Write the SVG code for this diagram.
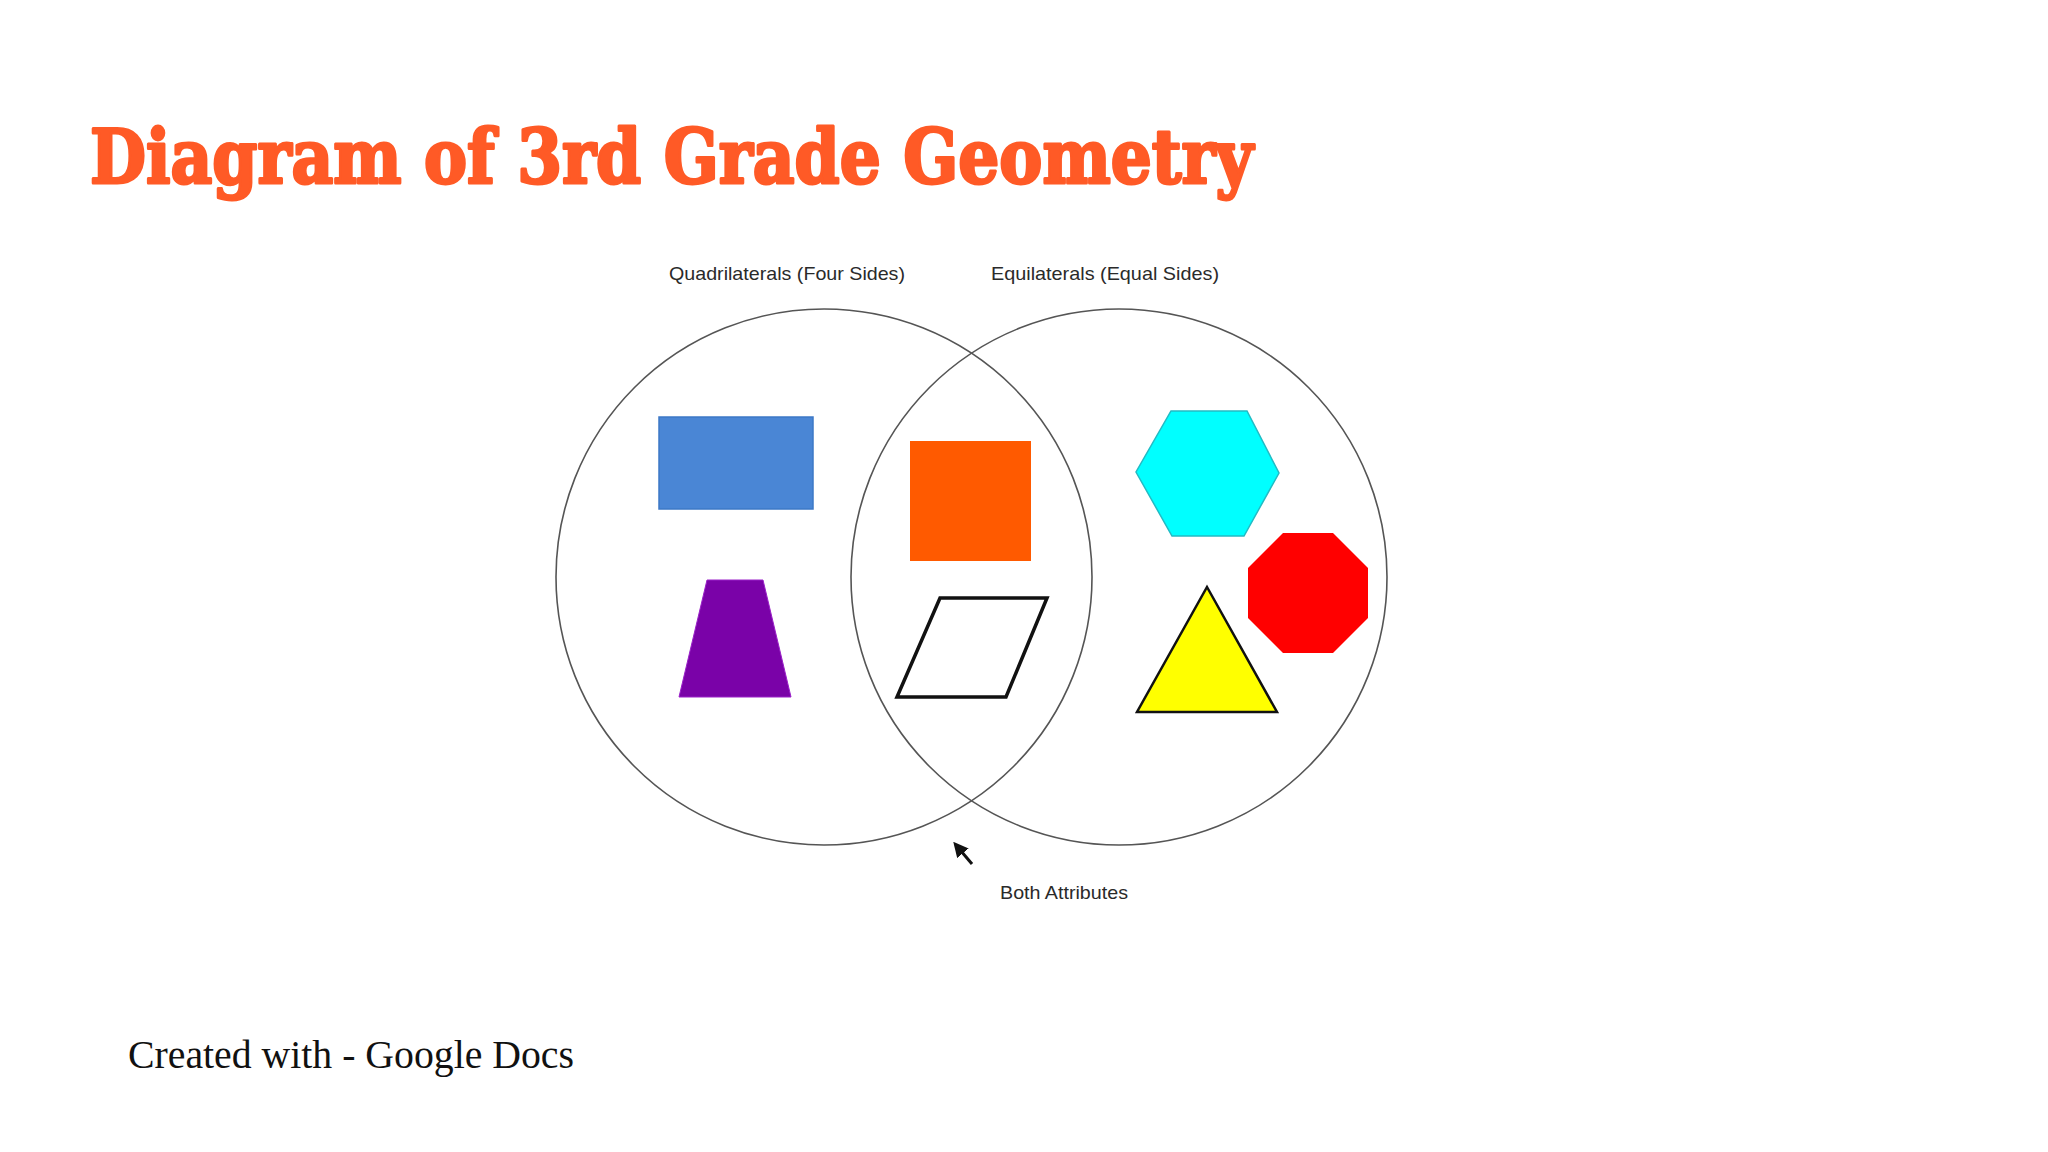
<svg xmlns="http://www.w3.org/2000/svg" width="2048" height="1152" viewBox="0 0 2048 1152">
<defs>
<style>
.title{font-family:"DejaVu Serif","Liberation Serif",serif;font-weight:bold;font-size:74px;fill:#FF5A26;stroke:#FF5A26;stroke-width:3;stroke-linejoin:round}
.lbl{font-family:"Liberation Sans",Arial,sans-serif;font-size:19px;fill:#2a2a2a}
.foot{font-family:"Liberation Serif","Times New Roman",serif;font-size:40px;fill:#111111}
.circ{fill:none;stroke:#555555;stroke-width:1.6}
</style>
<marker id="ah" viewBox="0 0 10 10" refX="2" refY="5" markerWidth="5" markerHeight="5" orient="auto-start-reverse">
<path d="M0,0 L10,5 L0,10 z" fill="#111111"/>
</marker>
</defs>
<rect x="0" y="0" width="2048" height="1152" fill="#ffffff"/>
<text class="title" x="90" y="183" textLength="1163" lengthAdjust="spacingAndGlyphs">Diagram of 3rd Grade Geometry</text>
<g id="venn">
<g id="quadrilaterals">
<circle class="circ" cx="824" cy="577" r="268"/>
<text class="lbl" x="669" y="280" textLength="236" lengthAdjust="spacingAndGlyphs">Quadrilaterals (Four Sides)</text>
</g>
<g id="equilaterals">
<circle class="circ" cx="1119" cy="577" r="268"/>
<text class="lbl" x="991" y="280" textLength="228" lengthAdjust="spacingAndGlyphs">Equilaterals (Equal Sides)</text>
</g>
</g>
<g id="rectangle"><rect x="659" y="417" width="154" height="92" fill="#4A86D5" stroke="#3D78C6" stroke-width="1.5"/></g>
<g id="trapezoid"><polygon points="707,580 763,580 791,697 679,697" fill="#7A02A8" stroke="#9A20C8" stroke-width="1"/></g>
<g id="square"><rect x="910" y="441" width="121" height="120" fill="#FF5A00"/></g>
<g id="rhombus"><polygon points="940,598 1047,598 1006,697 897,697" fill="#ffffff" stroke="#111111" stroke-width="3.5"/></g>
<g id="hexagon"><polygon points="1171,411 1247,411 1279,473 1244,536 1172,536 1136,472" fill="#00FFFF" stroke="#22BBC4" stroke-width="1.5"/></g>
<g id="octagon"><polygon points="1283,533 1333,533 1368,568 1368,618 1333,653 1283,653 1248,618 1248,568" fill="#FF0000"/></g>
<g id="triangle"><polygon points="1207,587 1277,712 1137,712" fill="#FFFF00" stroke="#111111" stroke-width="2.5" stroke-linejoin="miter"/></g>
<g id="connectors">
<line x1="972" y1="864" x2="961" y2="851" stroke="#111111" stroke-width="3" marker-end="url(#ah)"/>
</g>
<g id="both-label"><text class="lbl" x="1000" y="899" textLength="128" lengthAdjust="spacingAndGlyphs">Both Attributes</text></g>
<text class="foot" x="128" y="1068" textLength="446" lengthAdjust="spacingAndGlyphs">Created with - Google Docs</text>
</svg>
